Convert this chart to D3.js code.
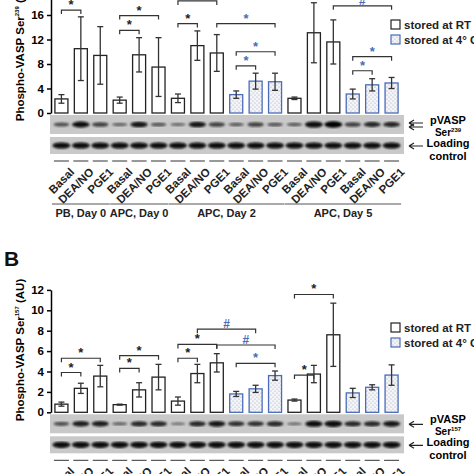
<!DOCTYPE html>
<html lang="en">
<head>
<meta charset="UTF-8">
<script src="https://cdnjs.cloudflare.com/ajax/libs/d3/7.8.5/d3.min.js"></script>
<style>
  body { margin: 0; background: #fff; }
  text { font-family: "Liberation Sans", Arial, sans-serif; font-weight: bold; }
</style>
</head>
<body>
<div id="chart"></div>
<script>
// lanes: 18 per panel
const lanes = ["Basal","DEA/NO","PGE1","Basal","DEA/NO","PGE1","Basal","DEA/NO","PGE1","Basal","DEA/NO","PGE1",
               "Basal","DEA/NO","PGE1","Basal","DEA/NO","PGE1"];
const storage = ["RT","RT","RT","RT","RT","RT","RT","RT","RT","4C","4C","4C","RT","RT","RT","4C","4C","4C"];
const groups = [
  {label: "PB, Day 0", from: 0, to: 2},
  {label: "APC, Day 0", from: 3, to: 5},
  {label: "APC, Day 2", from: 6, to: 11},
  {label: "APC, Day 5", from: 12, to: 17}
];

// panel A: Ser239
const valuesA = [2.3,10.5,9.4, 2.1,9.5,7.5, 2.4,11.0,9.8, 3.0,5.2,5.1, 2.4,13.1,11.6, 3.1,4.6,4.9];
const errA    = [0.7,5.2,4.7, 0.5,2.8,4.8, 0.7,2.4,3.0, 0.6,1.3,1.4, 0.2,4.9,3.6, 0.8,1.0,0.9];
const bandsA  = [0.5,0.9,0.6, 0.35,0.85,0.45, 0.3,0.85,0.6, 0.4,0.6,0.45, 0.4,0.95,1.0, 0.6,0.75,0.75];
// [from, to, level, symbol, colour]
const sigA = [
  [0,1,16.8,"*","k"],[3,4,13.5,"*","k"],[3,5,15.9,"*","k"],[6,7,14.6,"*","k"],[6,8,18.3,"*","k"],
  [8,11,14.6,"*","b"],[9,10,7.7,"*","b"],[9,11,10.0,"*","b"],[14,17,17.5,"#","b"],
  [15,16,6.9,"*","b"],[15,17,9.2,"*","b"]
];
const ticksA = [0,4,8,12,16];

// panel B: Ser157
const valuesB = [0.8,2.35,3.55, 0.75,2.2,3.45, 1.1,3.8,4.85, 1.8,2.3,3.6, 1.2,3.75,7.6, 1.9,2.45,3.65];
const errB    = [0.2,0.5,1.05, 0.05,0.7,1.25, 0.4,0.9,0.9, 0.25,0.35,0.45, 0.1,0.85,3.1, 0.45,0.25,1.0];
const bandsB  = [0.5,0.8,0.8, 0.35,0.75,0.75, 0.25,0.75,0.85, 0.7,0.7,0.75, 0.3,0.9,0.95, 0.75,0.75,0.85];
const sigB = [
  [0,1,3.9,"*","k"],[0,2,5.3,"*","k"],[3,4,4.3,"*","k"],[3,5,5.55,"*","k"],[6,7,5.3,"*","k"],[6,8,6.65,"*","k"],
  [7,10,8.15,"#","b"],[8,11,6.6,"#","b"],[9,11,4.8,"*","b"],[12,13,3.65,"*","k"],[12,14,11.55,"*","k"]
];
const ticksB = [0,2,4,6,8,10,12];

const blue = "#4a6cb8";
const svg = d3.select("#chart").append("svg").attr("width", 474).attr("height", 474);

const defs = svg.append("defs");
const pat = defs.append("pattern").attr("id", "dots").attr("width", 4).attr("height", 4)
  .attr("patternUnits", "userSpaceOnUse");
pat.append("rect").attr("width", 4).attr("height", 4).attr("fill", "#f4f5f8");
pat.append("circle").attr("cx", 1).attr("cy", 1).attr("r", 0.6).attr("fill", "#a4a9b6");
pat.append("circle").attr("cx", 3).attr("cy", 3).attr("r", 0.6).attr("fill", "#a4a9b6");
const blur = defs.append("filter").attr("id", "blur");
blur.append("feGaussianBlur").attr("stdDeviation", 1.2);

const x = d3.scaleBand().domain(d3.range(18)).range([52, 401]).paddingInner(0.33).paddingOuter(0.15);

function panel(cfg) {
  const y = d3.scaleLinear().domain([0, cfg.max]).range([cfg.y0, cfg.y0 - cfg.max * cfg.ppu]);
  const g = svg.append("g");

  g.append("g").attr("transform", `translate(51,0)`)
    .call(d3.axisLeft(y).tickValues(cfg.ticks).tickSize(4).tickSizeOuter(0))
    .call(a => a.select(".domain").attr("stroke-width", 1.5))
    .call(a => a.selectAll("line").attr("stroke-width", 1.5))
    .call(a => a.selectAll("text").attr("font-size", 11.5).attr("font-weight", "bold")
      .attr("font-family", "Liberation Sans, Arial, sans-serif"));

  g.append("text").attr("transform", `translate(24,${cfg.labelY}) rotate(-90)`)
    .attr("text-anchor", "middle").attr("font-size", 11.5)
    .html(`Phospho-VASP Ser<tspan font-size="6" dy="-5">${cfg.ser}</tspan><tspan dy="5"> (AU)</tspan>`);

  // bars
  g.selectAll(".bar").data(cfg.values).join("rect")
    .attr("x", (d, i) => x(i)).attr("width", x.bandwidth())
    .attr("y", d => y(d)).attr("height", d => y(0) - y(d))
    .attr("fill", (d, i) => storage[i] === "RT" ? "#fff" : "url(#dots)")
    .attr("stroke", (d, i) => storage[i] === "RT" ? "#222" : blue).attr("stroke-width", 1.3);

  // error bars
  cfg.values.forEach((v, i) => {
    const cx = x(i) + x.bandwidth() / 2, e = cfg.err[i];
    g.append("line").attr("x1", cx).attr("x2", cx).attr("y1", y(v - e)).attr("y2", y(v + e))
      .attr("stroke", "#333").attr("stroke-width", 1.3);
    [v - e, v + e].forEach(t => g.append("line").attr("x1", cx - 3).attr("x2", cx + 3)
      .attr("y1", y(t)).attr("y2", y(t)).attr("stroke", "#333").attr("stroke-width", 1.3));
  });

  // significance brackets
  cfg.sig.forEach(([a, b, lvl, sym, c]) => {
    const col = c === "k" ? "#222" : blue;
    const x1 = x(a) + x.bandwidth() / 2, x2 = x(b) + x.bandwidth() / 2, yy = y(lvl);
    g.append("path").attr("d", `M${x1},${yy + 4}V${yy}H${x2}V${yy + 4}`)
      .attr("fill", "none").attr("stroke", "#333").attr("stroke-width", 1.2);
    g.append("text").attr("x", (x1 + x2) / 2).attr("y", yy - 1).attr("text-anchor", "middle")
      .attr("font-size", sym === "#" ? 12 : 13).attr("fill", col).text(sym);
  });

  // legend
  [["stored at RT", "RT"], ["stored at 4° C", "4C"]].forEach(([t, k], j) => {
    const ly = cfg.legY + j * 15;
    g.append("rect").attr("x", 391).attr("y", ly - 9).attr("width", 9).attr("height", 9)
      .attr("fill", k === "RT" ? "#fff" : "url(#dots)").attr("stroke", k === "RT" ? "#222" : blue).attr("stroke-width", 1.2);
    g.append("text").attr("x", 404).attr("y", ly).attr("font-size", 11.5).attr("fill", "#222").text(t);
  });

  // blots
  const bx0 = 50, bx1 = 404;
  [[cfg.y0 + 2, 19, cfg.bands], [cfg.y0 + 24, 17, cfg.values.map(() => 0.95)]].forEach(([by, bh, ints]) => {
    g.append("rect").attr("x", bx0).attr("y", by).attr("width", bx1 - bx0).attr("height", bh).attr("fill", "#c9c9c9");
    ints.forEach((v, i) => {
      g.append("ellipse").attr("cx", x(i) + x.bandwidth() / 2).attr("cy", by + bh / 2)
        .attr("rx", 7 + v * 2).attr("ry", 1 + v * 2.2).attr("fill", d3.interpolateGreys(0.5 + v * 0.5))
        .attr("filter", "url(#blur)");
    });
  });
  const ty = cfg.y0 + 12;
  const arrow = (ay) => g.append("path").attr("d", `M409,${ay}h14M409,${ay}l5,-3M409,${ay}l5,3`)
    .attr("fill", "none").attr("stroke", "#222").attr("stroke-width", 1.2);
  if (cfg.double) { arrow(ty - 2); arrow(ty + 2); } else arrow(ty);
  g.append("text").attr("x", 448).attr("y", ty - 1).attr("text-anchor", "middle").attr("font-size", 11).text("pVASP");
  g.append("text").attr("x", 448).attr("y", ty + 11).attr("text-anchor", "middle").attr("font-size", 10)
    .html(`Ser<tspan font-size="6" dy="-4">${cfg.ser}</tspan>`);
  arrow(ty + 21);
  g.append("text").attr("x", 448).attr("y", ty + 22).attr("text-anchor", "middle").attr("font-size", 11).text("Loading");
  g.append("text").attr("x", 448).attr("y", ty + 35).attr("text-anchor", "middle").attr("font-size", 11).text("control");

  // lane dashes and labels
  const dy = cfg.y0 + 48;
  d3.range(18).forEach(i => {
    g.append("line").attr("x1", x(i) - 1).attr("x2", x(i) + x.bandwidth() + 1).attr("y1", dy).attr("y2", dy)
      .attr("stroke", "#333").attr("stroke-width", 1);
    g.append("text").attr("transform", `translate(${x(i) + x.bandwidth() / 2 + 8},${dy + 6}) rotate(-45)`)
      .attr("text-anchor", "end").attr("dy", "0.7em").attr("font-size", 11.5).attr("fill", "#222").text(lanes[i]);
  });
  groups.forEach(gr => {
    const x1 = x(gr.from) - 3, x2 = x(gr.to) + x.bandwidth() + 3, gy = dy + 43;
    g.append("line").attr("x1", x1).attr("x2", x2).attr("y1", gy).attr("y2", gy).attr("stroke", "#555");
    g.append("text").attr("x", (x1 + x2) / 2).attr("y", gy + 13).attr("text-anchor", "middle")
      .attr("font-size", 11).attr("fill", "#222").text(gr.label);
  });
}

panel({y0: 113, max: 20, ppu: 6.125, ticks: ticksA, values: valuesA, err: errA, bands: bandsA,
       sig: sigA, ser: "239", labelY: 50, legY: 29, double: true});
panel({y0: 412.3, max: 12, ppu: 10.2, ticks: ticksB, values: valuesB, err: errB, bands: bandsB,
       sig: sigB, ser: "157", labelY: 350, legY: 332, double: false});

svg.append("text").attr("x", 4).attr("y", 266).attr("font-size", 21).attr("fill", "#111").text("B");
</script>
</body>
</html>
